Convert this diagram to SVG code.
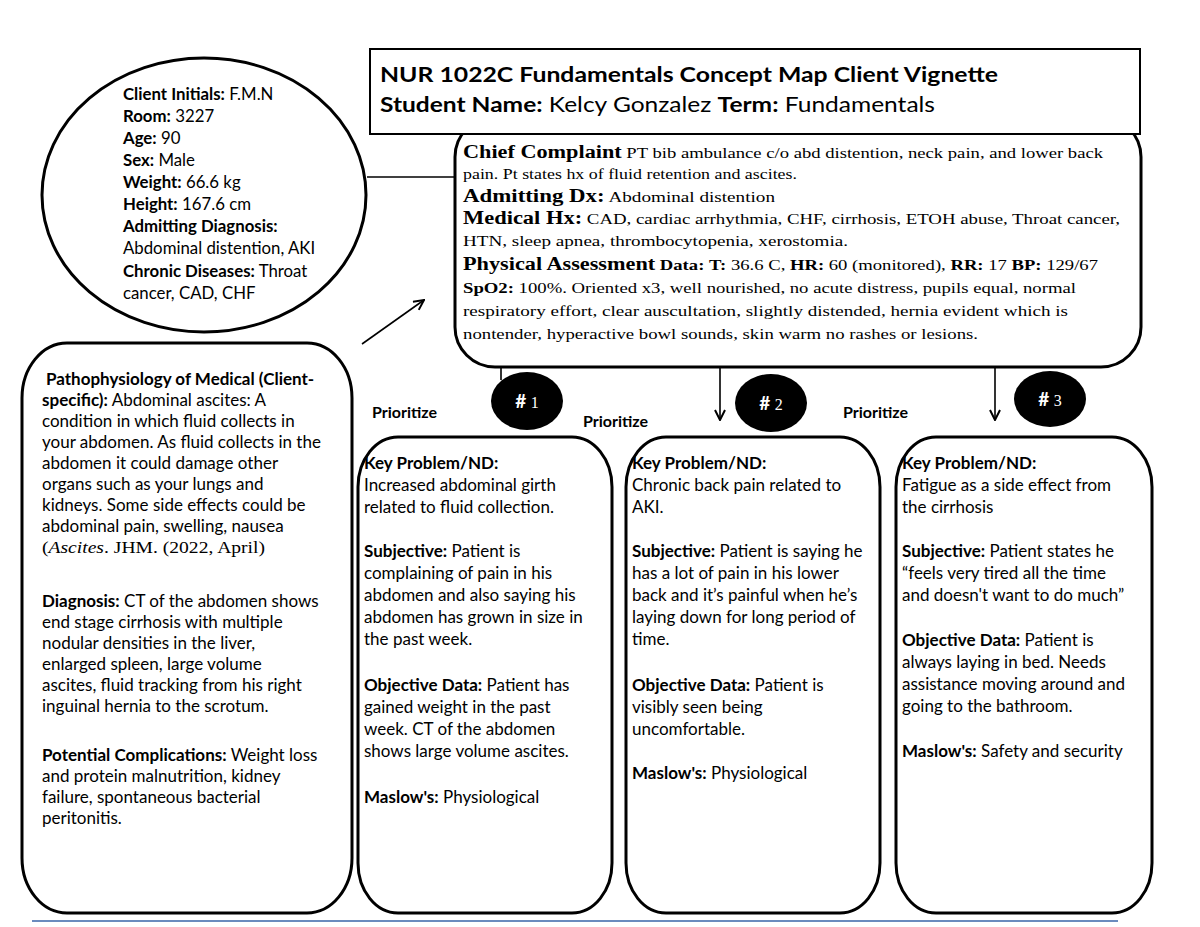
<svg xmlns="http://www.w3.org/2000/svg" width="1200" height="927" viewBox="0 0 1200 927">
<defs>
<style>
.box{fill:#fff;stroke:#000;stroke-width:3}
.ln{stroke:#000;stroke-width:1.6;fill:none}
.c{font-family:Lato,"Open Sans","Liberation Sans",sans-serif;font-size:17px;fill:#000}
.e{font-size:16.8px}
.b{font-weight:bold}
.tm{font-family:"Liberation Serif","Times New Roman",serif;font-size:15.5px;fill:#000}
.th{font-weight:bold;font-size:18.5px}
.pr{font-family:Lato,"Open Sans","Liberation Sans",sans-serif;font-size:16px;font-weight:bold}
.num{font-family:Lato,"Liberation Sans",sans-serif;font-size:19px;font-weight:bold;fill:#fff}
.dg{font-family:"Liberation Serif",serif;font-size:16px;font-weight:normal;fill:#fff}
</style>
<marker id="ah" viewBox="0 0 12 12" refX="11" refY="6" markerWidth="12" markerHeight="12" markerUnits="userSpaceOnUse" orient="auto">
<path d="M1,1 L11,6 L1,11" fill="none" stroke="#000" stroke-width="2"/>
</marker>
</defs>
<rect width="1200" height="927" fill="#fff"/>

<g id="connectors">
<line class="ln" x1="367" y1="177" x2="456" y2="177" stroke-width="1"/>
<line class="ln" x1="362" y1="344" x2="424" y2="300" marker-end="url(#ah)"/>
<line class="ln" x1="501" y1="366" x2="501" y2="380"/>
<line class="ln" x1="720" y1="366" x2="720" y2="420" marker-end="url(#ah)"/>
<line class="ln" x1="995" y1="366" x2="995" y2="420" marker-end="url(#ah)"/>
</g>

<g id="client">
<ellipse class="box" cx="204" cy="195" rx="162" ry="137" stroke-width="3.5"/>
<text class="c e" x="123" y="100"><tspan class="b">Client Initials:</tspan> F.M.N</text>
<text class="c e" x="123" y="122"><tspan class="b">Room:</tspan> 3227</text>
<text class="c e" x="123" y="144"><tspan class="b">Age:</tspan> 90</text>
<text class="c e" x="123" y="166"><tspan class="b">Sex:</tspan> Male</text>
<text class="c e" x="123" y="188"><tspan class="b">Weight:</tspan> 66.6 kg</text>
<text class="c e" x="123" y="210"><tspan class="b">Height:</tspan> 167.6 cm</text>
<text class="c e b" x="123" y="232">Admitting Diagnosis:</text>
<text class="c e" x="123" y="254">Abdominal distention, AKI</text>
<text class="c e" x="123" y="277"><tspan class="b">Chronic Diseases:</tspan> Throat</text>
<text class="c e" x="123" y="299">cancer, CAD, CHF</text>
</g>

<g id="chief">
<rect class="box" x="455" y="117" width="686" height="250" rx="40" ry="40"/>
<text class="tm" x="463" y="158" textLength="640" lengthAdjust="spacingAndGlyphs"><tspan class="th">Chief Complaint</tspan> PT bib ambulance c/o abd distention, neck pain, and lower back</text>
<text class="tm" x="463" y="179" textLength="334" lengthAdjust="spacingAndGlyphs">pain. Pt states hx of fluid retention and ascites.</text>
<text class="tm" x="463" y="202" textLength="312" lengthAdjust="spacingAndGlyphs"><tspan class="th">Admitting Dx:</tspan> Abdominal distention</text>
<text class="tm" x="463" y="224" textLength="657" lengthAdjust="spacingAndGlyphs"><tspan class="th">Medical Hx:</tspan> CAD, cardiac arrhythmia, CHF, cirrhosis, ETOH abuse, Throat cancer,</text>
<text class="tm" x="463" y="246" textLength="385" lengthAdjust="spacingAndGlyphs">HTN, sleep apnea, thrombocytopenia, xerostomia.</text>
<text class="tm" x="463" y="270" textLength="635" lengthAdjust="spacingAndGlyphs"><tspan class="th">Physical Assessment</tspan> <tspan class="b">Data:</tspan> <tspan class="b">T:</tspan> 36.6 C, <tspan class="b">HR:</tspan> 60 (monitored), <tspan class="b">RR:</tspan> 17 <tspan class="b">BP:</tspan> 129/67</text>
<text class="tm" x="463" y="293" textLength="613" lengthAdjust="spacingAndGlyphs"><tspan class="b">SpO2:</tspan> 100%. Oriented x3, well nourished, no acute distress, pupils equal, normal</text>
<text class="tm" x="463" y="316" textLength="605" lengthAdjust="spacingAndGlyphs">respiratory effort, clear auscultation, slightly distended, hernia evident which is</text>
<text class="tm" x="463" y="339" textLength="515" lengthAdjust="spacingAndGlyphs">nontender, hyperactive bowl sounds, skin warm no rashes or lesions.</text>
</g>

<g id="title">
<rect x="370" y="49" width="770" height="85" fill="#fff" stroke="#000" stroke-width="2"/>
<text class="c b" x="380" y="82" style="font-size:21px" textLength="618" lengthAdjust="spacingAndGlyphs">NUR 1022C Fundamentals Concept Map Client Vignette</text>
<text class="c" x="380" y="112" style="font-size:21px" textLength="555" lengthAdjust="spacingAndGlyphs"><tspan class="b">Student Name:</tspan> Kelcy Gonzalez <tspan class="b">Term:</tspan> Fundamentals</text>
</g>

<g id="patho">
<rect class="box" x="22" y="343" width="330" height="570" rx="45" ry="55"/>
<text class="c" x="46" y="385"><tspan class="b">Pathophysiology of Medical (Client-</tspan></text>
<text class="c" x="42" y="406"><tspan class="b">specific):</tspan> Abdominal ascites: A</text>
<text class="c" x="42" y="427">condition in which fluid collects in</text>
<text class="c" x="42" y="448">your abdomen. As fluid collects in the</text>
<text class="c" x="42" y="469">abdomen it could damage other</text>
<text class="c" x="42" y="490">organs such as your lungs and</text>
<text class="c" x="42" y="511">kidneys. Some side effects could be</text>
<text class="c" x="42" y="532">abdominal pain, swelling, nausea</text>
<text class="tm" x="42" y="553" style="font-size:17px" textLength="223" lengthAdjust="spacingAndGlyphs">(<tspan font-style="italic">Ascites</tspan>. JHM. (2022, April)</text>
<text class="c" x="42" y="607"><tspan class="b">Diagnosis:</tspan>  CT of the abdomen shows</text>
<text class="c" x="42" y="628">end stage cirrhosis with multiple</text>
<text class="c" x="42" y="649">nodular densities in the liver,</text>
<text class="c" x="42" y="670">enlarged spleen, large volume</text>
<text class="c" x="42" y="691">ascites, fluid tracking from his right</text>
<text class="c" x="42" y="712">inguinal hernia to the scrotum.</text>
<text class="c" x="42" y="761"><tspan class="b">Potential Complications:</tspan> Weight loss</text>
<text class="c" x="42" y="782">and protein malnutrition, kidney</text>
<text class="c" x="42" y="803">failure, spontaneous bacterial</text>
<text class="c" x="42" y="824">peritonitis.</text>
</g>

<g id="labels">
<text class="pr" x="372" y="418">Prioritize</text>
<text class="pr" x="583" y="427">Prioritize</text>
<text class="pr" x="843" y="418">Prioritize</text>
</g>

<g id="p1">
<ellipse cx="527" cy="401" rx="36" ry="29" fill="#000"/>
<text class="num" x="527" y="408" text-anchor="middle"># <tspan class="dg">1</tspan></text>
</g>
<g id="p2">
<ellipse cx="771" cy="403" rx="36" ry="29" fill="#000"/>
<text class="num" x="771" y="410" text-anchor="middle"># <tspan class="dg">2</tspan></text>
</g>
<g id="p3">
<ellipse cx="1050" cy="399" rx="36" ry="28" fill="#000"/>
<text class="num" x="1050" y="406" text-anchor="middle"># <tspan class="dg">3</tspan></text>
</g>

<g id="box1">
<rect class="box" x="358" y="437" width="254" height="476" rx="40" ry="50"/>
<text class="c b" x="364" y="469">Key Problem/ND:</text>
<text class="c" x="364" y="491">Increased abdominal girth</text>
<text class="c" x="364" y="513">related to fluid collection.</text>
<text class="c" x="364" y="557"><tspan class="b">Subjective:</tspan> Patient is</text>
<text class="c" x="364" y="579">complaining of pain in his</text>
<text class="c" x="364" y="601">abdomen and also saying his</text>
<text class="c" x="364" y="623">abdomen has grown in size in</text>
<text class="c" x="364" y="645">the past week.</text>
<text class="c" x="364" y="691"><tspan class="b">Objective Data:</tspan> Patient has</text>
<text class="c" x="364" y="713">gained weight in the past</text>
<text class="c" x="364" y="735">week. CT of the abdomen</text>
<text class="c" x="364" y="757">shows large volume ascites.</text>
<text class="c" x="364" y="803"><tspan class="b">Maslow's:</tspan> Physiological</text>
</g>

<g id="box2">
<rect class="box" x="626" y="437" width="254" height="476" rx="40" ry="50"/>
<text class="c b" x="632" y="469">Key Problem/ND:</text>
<text class="c" x="632" y="491">Chronic back pain related to</text>
<text class="c" x="632" y="513">AKI.</text>
<text class="c" x="632" y="557"><tspan class="b">Subjective:</tspan> Patient is saying he</text>
<text class="c" x="632" y="579">has a lot of pain in his lower</text>
<text class="c" x="632" y="601">back and it’s painful when he’s</text>
<text class="c" x="632" y="623">laying down for long period of</text>
<text class="c" x="632" y="645">time.</text>
<text class="c" x="632" y="691"><tspan class="b">Objective Data:</tspan> Patient is</text>
<text class="c" x="632" y="713">visibly seen being</text>
<text class="c" x="632" y="735">uncomfortable.</text>
<text class="c" x="632" y="779"><tspan class="b">Maslow's:</tspan> Physiological</text>
</g>

<g id="box3">
<rect class="box" x="896" y="437" width="256" height="476" rx="40" ry="50"/>
<text class="c b" x="902" y="469">Key Problem/ND:</text>
<text class="c" x="902" y="491">Fatigue as a side effect from</text>
<text class="c" x="902" y="513">the cirrhosis</text>
<text class="c" x="902" y="557"><tspan class="b">Subjective:</tspan> Patient states he</text>
<text class="c" x="902" y="579">“feels very tired all the time</text>
<text class="c" x="902" y="601">and doesn't want to do much”</text>
<text class="c" x="902" y="646"><tspan class="b">Objective Data:</tspan> Patient is</text>
<text class="c" x="902" y="668">always laying in bed. Needs</text>
<text class="c" x="902" y="690">assistance moving around and</text>
<text class="c" x="902" y="712">going to the bathroom.</text>
<text class="c" x="902" y="757"><tspan class="b">Maslow's:</tspan> Safety and security</text>
</g>

<line x1="32" y1="921" x2="1118" y2="921" stroke="#3A64A8" stroke-width="1.5"/>
</svg>
